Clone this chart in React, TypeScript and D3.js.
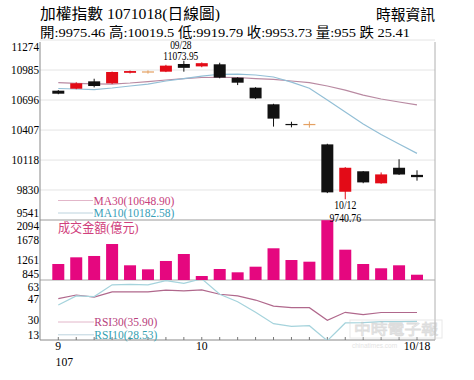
import React from "react";
import * as d3 from "d3";

const dates = ["09/18","09/19","09/20","09/21","09/25","09/26","09/27","09/28","10/01","10/02","10/03","10/04","10/05","10/08","10/09","10/11","10/12","10/15","10/16","10/17","10/18"];
const opens = [10786,10805,10876,10857,10958,10966,10969,11043,11020,11040,10911,10815,10655,10460,10460,10269,9813,10010,9894,10044,9975.46];
const highs = [10792,10867,10901,10970,10980,10982,11035,11073.95,11058,11055,10915,10820,10660,10487,10490,10275,10050,10012,9999,10126,10019.5];
const lows = [10752,10800,10818,10850,10952,10950,10965,10969,11012,10905,10840,10705,10440,10433,10430,9800,9740.76,9895,9890,9975,9919.79];
const closes = [10757,10857,10831,10966,10975,10966,11027,11006,11051,10912,10863,10712,10517,10455,10460,9807,10044,9903,9980,9979,9953.73];
const ma30 = [10863,10857,10852,10850,10860,10874,10889,10903,10913,10915,10913,10903,10894,10879,10863,10831,10792,10744,10706,10677,10648.9];
const ma10 = [10807,10802,10797,10812,10831,10850,10879,10903,10927,10944,10946,10937,10918,10869,10809,10696,10580,10465,10364,10272,10182.58];
const volumes = [1178,1317,1345,1594,1151,1067,1241,1386,928,1074,1005,1122,1505,1261,1226,2090,1476,1178,1089,1151,955];
const rsi30 = [47.5,50.5,48.8,53.1,53.1,53.1,54.5,53.9,54.8,51.1,49.7,46.3,41.2,39.9,39.9,29.4,36.1,34.2,35.9,35.9,35.9];
const rsi10 = [42.1,49.7,49.2,59,59.4,59,62.4,60.2,64,51.1,44.9,36.1,26.6,24.3,24.9,12.4,27.2,27.4,28.3,28.3,28.53];
const priceTicks = [11274,10985,10696,10407,10118,9830,9541];
const volTicks = [2094,1678,1261,845];
const rsiTicks = [63,47,30,13];
const xLabels = [{d:"09/18",t:"9",sub:"107"},{d:"10/01",t:"10",sub:""},{d:"10/18",t:"10/18",sub:""}];

const SERIF = "'Liberation Serif','DejaVu Serif','Noto Sans CJK TC',serif";

function T({x,y,size=12,sx=1,anchor="start",fill="#000",children}:any){
  return <text transform={`translate(${x},${y}) scale(${sx},1)`} fontSize={size} textAnchor={anchor} fill={fill} fontFamily={SERIF}>{children}</text>;
}

export default function App(){
  const L = 40, R = 435;
  const x = d3.scalePoint<string>().domain(dates).range([58.3, 417]);
  const y = d3.scaleLinear().domain([9541, 11274]).range([220, 40]);
  const yv = d3.scaleLinear().domain([845, 2094]).range([280, 220]);
  const yr = d3.scaleLinear().domain([13, 63]).range([340, 280]);
  const bw = 12;
  const idx = d3.range(dates.length);
  const lineP = (arr:number[]) => d3.line<number>().x(i=>x(dates[i])!).y(i=>y(arr[i]))(idx)!;
  const lineR = (arr:number[]) => d3.line<number>().x(i=>x(dates[i])!).y(i=>yr(arr[i]))(idx)!;
  const clampY = (v:number, a:number, b:number) => Math.max(a, Math.min(b, v));
  const red = "#e30b17", blk = "#111", neu = "#e4a062";
  const i8 = 7, i17 = 16;
  return (
    <svg width={474} height={380} style={{position:"absolute",left:0,top:0,background:"#fff"}}>
      <defs>
        <clipPath id="rsiClip"><rect x={L} y={280} width={R-L} height={60}/></clipPath>
      </defs>
      <text x={40} y={19} fontSize={15} fontFamily={SERIF} textLength={180} lengthAdjust="spacingAndGlyphs">加權指數 1071018(日線圖)</text>
      <text x={376} y={20} fontSize={15} fontFamily={SERIF} textLength={59} lengthAdjust="spacingAndGlyphs">時報資訊</text>
      <text x={40} y={36.5} fontSize={13.5} fontFamily={SERIF} textLength={370} lengthAdjust="spacingAndGlyphs">開:9975.46 高:10019.5 低:9919.79 收:9953.73 量:955 跌 25.41</text>

      {/* grid */}
      {priceTicks.map(t => <line key={t} x1={L} x2={R} y1={y(t)} y2={y(t)} stroke="#e4e4e4" strokeWidth={1}/>)}
      <line x1={L} x2={R} y1={220} y2={220} stroke="#a8a8a8"/>
      <line x1={L} x2={R} y1={280} y2={280} stroke="#a8a8a8"/>
      <line x1={L} x2={R} y1={340} y2={340} stroke="#888"/>
      <line x1={L} x2={L} y1={42} y2={340} stroke="#888"/>
      <line x1={R} x2={R} y1={42} y2={340} stroke="#b0b0b0"/>
      {dates.map(d => <line key={d} x1={x(d)} x2={x(d)} y1={340} y2={337} stroke="#777"/>)}

      {priceTicks.map(t => <T key={t} x={39} y={clampY(y(t),47,213)+4} size={12} sx={0.93} anchor="end">{t}</T>)}
      {volTicks.map(t => <T key={t} x={39} y={clampY(yv(t),225.5,274)+4} size={12} sx={0.93} anchor="end">{t}</T>)}
      {rsiTicks.map(t => <T key={t} x={39} y={clampY(yr(t),286.5,335)+4} size={12} sx={0.93} anchor="end">{t}</T>)}

      {/* MA lines */}
      <path d={lineP(ma30)} fill="none" stroke="#b98aa2" strokeWidth={1.2}/>
      <path d={lineP(ma10)} fill="none" stroke="#93bfd6" strokeWidth={1.2}/>

      {/* candles */}
      {idx.map(i => {
        const o = opens[i], c = closes[i];
        const col = c > o ? red : c < o ? blk : neu;
        const cx = x(dates[i])!;
        const top = y(Math.max(o,c)), bot = y(Math.min(o,c));
        const h = Math.max(bot - top, 1.2);
        return <g key={i}>
          <line x1={cx} x2={cx} y1={y(highs[i])} y2={y(lows[i])} stroke={col} strokeWidth={1}/>
          <rect x={cx-bw/2} y={h<=1.5 ? top-0.6 : top} width={bw} height={h} fill={col}/>
        </g>;
      })}

      <T x={x(dates[i8])!-3} y={48.5} size={11.5} sx={0.82} anchor="middle">09/28</T>
      <T x={x(dates[i8])!-3} y={59.5} size={11.5} sx={0.82} anchor="middle">{highs[i8].toFixed(2)}</T>

      {/* legend main */}
      <line x1={58} x2={93} y1={200.5} y2={200.5} stroke="#e2b6c9"/>
      <T x={93.5} y={204.5} size={11.5} sx={1.0} fill="#c8407c">MA30({ma30[20].toFixed(2)})</T>
      <line x1={58} x2={93} y1={213} y2={213} stroke="#bcd3de"/>
      <T x={93.5} y={217.3} size={11.5} sx={1.0} fill="#3aa0b8">MA10({ma10[20].toFixed(2)})</T>

      {/* volume */}
      {idx.map(i => <rect key={i} x={x(dates[i])!-bw/2} y={yv(volumes[i])} width={bw} height={280-yv(volumes[i])} fill="#e5077f"/>)}
      <T x={58} y={232} size={13} sx={0.93} fill="#d0407c">成交金額(億元)</T>

      <T x={x(dates[i17])!} y={208.5} size={11.5} sx={0.85} anchor="middle">10/12</T>
      <T x={x(dates[i17])!} y={222} size={11.5} sx={0.85} anchor="middle">{lows[i17].toFixed(2)}</T>

      {/* RSI */}
      <g clipPath="url(#rsiClip)">
        <path d={lineR(rsi30)} fill="none" stroke="#b0688c" strokeWidth={1.2}/>
        <path d={lineR(rsi10)} fill="none" stroke="#a5d3dc" strokeWidth={1.2}/>
      </g>
      <line x1={58} x2={94} y1={322} y2={322} stroke="#e2b6c9"/>
      <T x={94.3} y={326} size={11.5} sx={1.0} fill="#b8407c">RSI30({rsi30[20].toFixed(2)})</T>
      <line x1={58} x2={94} y1={334.8} y2={334.8} stroke="#bcd3de"/>
      <T x={94.3} y={339} size={11.5} sx={1.0} fill="#35a0b0">RSI10({rsi10[20].toFixed(2)})</T>

      {/* watermark */}
      <g opacity={0.5}>
        <rect x={350} y={320} width={92} height={18} fill="none" stroke="#d4d4d4"/>
        <text x={396} y={333.5} fontSize={13.5} textAnchor="middle" fill="none" stroke="#bdbdbd" strokeWidth={0.8} fontFamily="'Noto Sans CJK TC',sans-serif" textLength={84} lengthAdjust="spacingAndGlyphs">中時電子報</text>
        <text x={352} y={348} fontSize={6.5} fill="#c8c8c8" fontFamily="'Liberation Sans',sans-serif">chinatimes.com</text>
      </g>

      {/* x labels */}
      {xLabels.map(l => <g key={l.d}>
        <T x={x(l.d)!} y={350} size={13} sx={0.9} anchor="middle">{l.t}</T>
        {l.sub && <T x={x(l.d)!+6} y={366} size={13} sx={0.9} anchor="middle">{l.sub}</T>}
      </g>)}
    </svg>
  );
}
